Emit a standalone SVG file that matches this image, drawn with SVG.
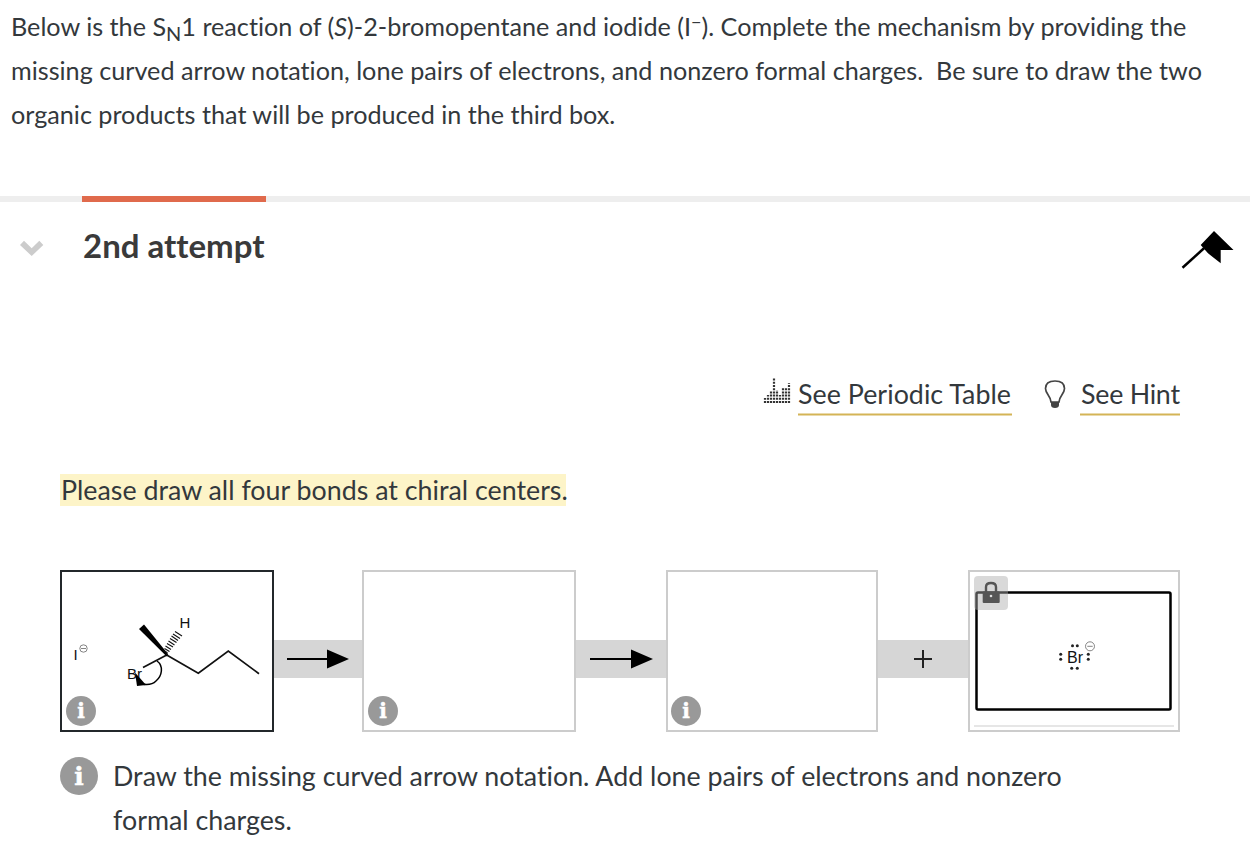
<svg xmlns="http://www.w3.org/2000/svg" width="1250" height="844" viewBox="0 0 1250 844">
<style>
text{font-variant-ligatures:none}
.t{font-family:Lato,"Open Sans",sans-serif;font-size:26.8px;fill:#33383c}
.q{font-size:25.2px}
.a{font-family:"Liberation Sans",Arial,sans-serif;fill:#111}
.box{fill:#fff;stroke:#ccc;stroke-width:2}
.bar{fill:#d6d6d6}
.info{fill:#999}
.it{font-family:"DejaVu Serif",serif;font-weight:700;fill:#fff;stroke:#fff;stroke-width:.5;text-anchor:middle}
.bond{fill:none;stroke:#111;stroke-width:1.7}
.ul{fill:#d4b456}
.dot{fill:#222}
.pd{fill:none;stroke:#333;stroke-width:2.200;stroke-dasharray:2 1.200}
</style>
<defs>
<marker id="ah" markerWidth="22" markerHeight="20" refX="0" refY="10" orient="auto" markerUnits="userSpaceOnUse"><path d="M0 .5L22 10L0 19.500z" fill="#000"/></marker>
</defs>
<rect width="1250" height="844" fill="#fff"/>
<g id="question">
<text class="t q" x="11" y="36">Below is the S<tspan font-size="20" dy="5">N</tspan><tspan dy="-5">1 reaction of (</tspan><tspan font-style="italic">S</tspan>)-2-bromopentane and iodide (I<tspan font-size="18" dy="-8">−</tspan><tspan dy="8">). Complete the mechanism by providing the</tspan></text>
<text class="t q" x="11" y="80" xml:space="preserve">missing curved arrow notation, lone pairs of electrons, and nonzero formal charges.  Be sure to draw the two</text>
<text class="t q" x="11" y="124">organic products that will be produced in the third box.</text>
</g>
<g id="header">
<rect x="0" y="196" width="1250" height="6" fill="#eee"/>
<rect x="82" y="196" width="184" height="6" fill="#e06a4c"/>
<path d="M20 245L24 240.700L31.700 248.300L39.300 240.700L43.300 245L31.700 256z" fill="#ccc"/>
<text x="83" y="258" style="font-family:Lato,sans-serif;font-weight:700;font-size:33px;fill:#3a3a3a">2nd attempt</text>
<path d="M1182.500 267.700L1204 248.300" stroke="#000" stroke-width="2.500" fill="none"/>
<path d="M1214 231L1233.500 250L1220.700 250L1220.700 263.300L1208 253.300L1200.700 245z" fill="#000"/>
</g>
<g id="periodic-table">
<path class="pd" d="M765 403V398M768 403V395M771 403V391M774 403V378M777 403V390M780 403V395M783 403V388M786 403V388M789 403V383"/>
<text class="t" x="798" y="404" textLength="213">See Periodic Table</text>
<rect class="ul" x="798" y="413.500" width="214" height="2"/>
</g>
<g id="hint">
<path d="M1051 402C1051 396 1045.500 394 1045.500 388.500C1045.500 383.500 1049.500 381 1055 381C1060.500 381 1064.500 383.500 1064.500 388.500C1064.500 394 1059 396 1059 402z" fill="none" stroke="#444" stroke-width="1.700"/>
<path d="M1051 402H1059V405Q1059 408 1055 408Q1051 408 1051 405z" fill="#444"/>
<text class="t" x="1081" y="404" textLength="99">See Hint</text>
<rect class="ul" x="1080" y="413.500" width="100" height="2"/>
</g>
<g id="chiral-note">
<rect x="60" y="474" width="506" height="32" fill="#fdf4c8"/>
<text class="t" x="61" y="500">Please draw all four bonds at chiral centers.</text>
</g>
<g id="connectors">
<rect class="bar" x="274" y="640" width="88" height="38"/>
<rect class="bar" x="576" y="640" width="90" height="38"/>
<rect class="bar" x="878" y="640" width="90" height="38"/>
<path d="M287 659H327" stroke="#000" stroke-width="2.200" marker-end="url(#ah)"/>
<path d="M590 659H631" stroke="#000" stroke-width="2.200" marker-end="url(#ah)"/>
<path d="M923 650V668M914 659H932" stroke="#222" stroke-width="2" fill="none"/>
</g>
<g id="box-1">
<rect x="61" y="571" width="212" height="160" fill="#fff" stroke="#23282b" stroke-width="2"/>
<text class="a" x="73.500" y="659.500" font-size="15">I</text>
<circle cx="83.500" cy="648.500" r="3.700" fill="none" stroke="#666" stroke-width=".8"/><path d="M81 648.500H86" stroke="#666" stroke-width=".8"/>
<path class="bond" d="M166.700 655L198.300 673.300L228.300 651L259 673.700"/>
<path class="bond" d="M166.700 655L143 667.500"/>
<path d="M166.700 656.500L168 654L144 624.500L139 629z" fill="#000"/>
<path d="M166 654L168 655M163.500 650.500L167.500 652.700M164.500 648.500L169.500 651.500M165.500 646L171 649.500M167 643.500L173 647M168.500 641L174.500 645M170 638.500L176.500 642.500M171.500 636L178 640.500M173 634L180 638.500M175 631.500L182 636" stroke="#111" stroke-width="1.100" fill="none"/>
<text class="a" x="179.500" y="628" font-size="15">H</text>
<text class="a" x="127" y="679" font-size="15">Br</text>
<path d="M157 661C164 666 162 676 156 681C152 685 147 685 142 684" fill="none" stroke="#000" stroke-width="1.500"/>
<path d="M135 672.500L146 685L137 686z" fill="#000"/>
<circle class="info" cx="81" cy="711" r="15"/>
<text class="it" x="81" y="718" font-size="20">i</text>
</g>
<g id="box-2">
<rect class="box" x="363" y="571" width="212" height="160"/>
<circle class="info" cx="383" cy="711" r="15"/>
<text class="it" x="383" y="718" font-size="20">i</text>
</g>
<g id="box-3">
<rect class="box" x="667" y="571" width="210" height="160"/>
<circle class="info" cx="686" cy="711" r="15"/>
<text class="it" x="686" y="718" font-size="20">i</text>
</g>
<g id="box-4">
<rect class="box" x="969" y="571" width="210" height="160"/>
<rect x="976.500" y="592.500" width="194" height="117" rx="1.500" fill="#fff" stroke="#000" stroke-width="2.500"/>
<rect x="974" y="576" width="34" height="34" rx="4" fill="#aaa" opacity=".45"/>
<rect x="982.700" y="591.500" width="17" height="11.500" rx="1" fill="#555"/>
<path d="M986 592V587Q986 583 991 583Q996 583 996 587V592" fill="none" stroke="#555" stroke-width="2.400"/>
<circle cx="991" cy="596" r="1.300" fill="#ddd"/>
<rect x="974" y="725" width="200" height="2" fill="#e6e6e6"/>
<text class="a" x="1075" y="663" font-size="16" text-anchor="middle">Br</text>
<circle class="dot" cx="1072.500" cy="645.700" r="1.500"/><circle class="dot" cx="1077.300" cy="645.700" r="1.500"/>
<circle class="dot" cx="1071.700" cy="668.300" r="1.500"/><circle class="dot" cx="1077.300" cy="668.300" r="1.500"/>
<circle class="dot" cx="1060.700" cy="654.300" r="1.500"/><circle class="dot" cx="1060.700" cy="659.300" r="1.500"/>
<circle class="dot" cx="1088.300" cy="654.300" r="1.500"/><circle class="dot" cx="1088.300" cy="659.300" r="1.500"/>
<circle cx="1090" cy="646.300" r="4.500" fill="none" stroke="#777" stroke-width=".9"/><path d="M1087.300 646.300H1092.700" stroke="#777" stroke-width=".9"/>
</g>
<g id="instruction">
<circle class="info" cx="79" cy="776" r="19"/>
<text class="it" x="79" y="785" font-size="25">i</text>
<text class="t" x="113" y="786">Draw the missing curved arrow notation. Add lone pairs of electrons and nonzero</text>
<text class="t" x="113" y="830">formal charges.</text>
</g>
</svg>
